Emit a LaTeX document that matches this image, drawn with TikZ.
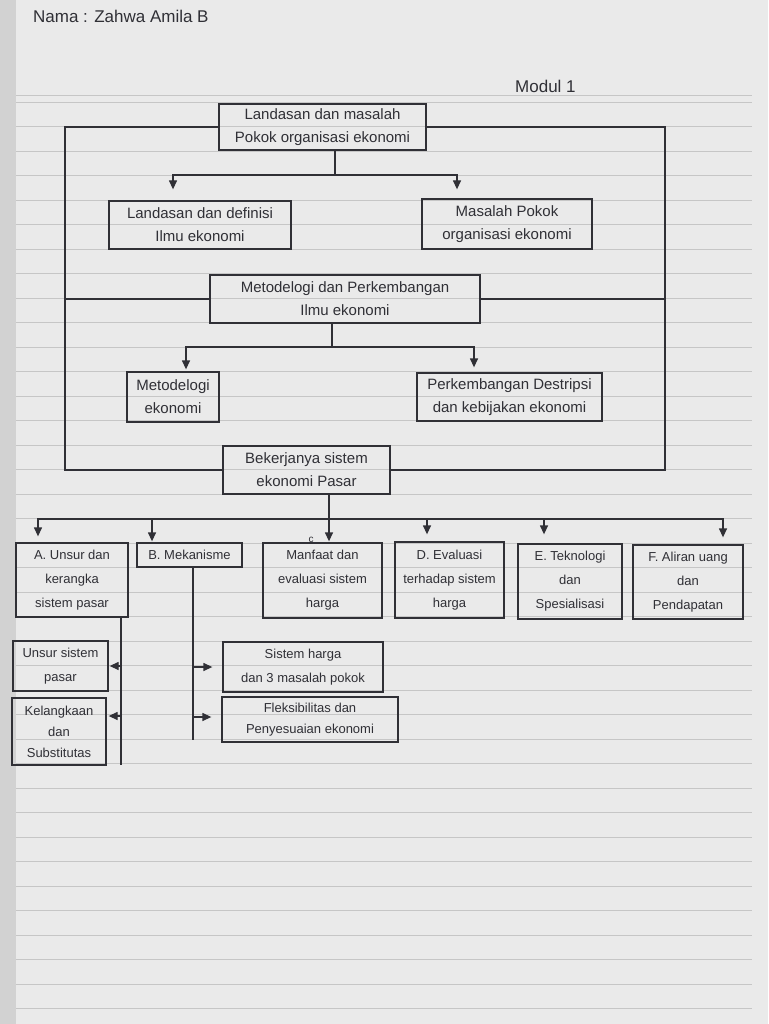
\documentclass[tikz,border=0pt]{standalone}
\usepackage{fontspec}
\setmainfont{Liberation Sans}
\usetikzlibrary{arrows.meta,calc}
\definecolor{ink}{HTML}{303036}
\definecolor{paper}{HTML}{EAEAEA}
\definecolor{edge}{HTML}{D2D2D2}
\definecolor{rule}{HTML}{C6C6C6}
\begin{document}
\begin{tikzpicture}[x=1pt,y=-1pt,
  pen/.style={draw=ink, line width=1.3pt},
  box/.style={pen, rectangle, inner sep=2pt, align=center, text=ink, font=\fontsize{15}{23}\selectfont},
  sbox/.style={box, font=\fontsize{13}{24}\selectfont},
  arr/.style={pen, -{Triangle[length=9pt,width=8pt]}},
  ln/.style={pen},
  lbl/.style={text=ink, inner sep=0pt}
]
\useasboundingbox (0,0) rectangle (768,1024);
\fill[edge] (0,0) rectangle (768,1024);
\fill[paper] (16,0) rectangle (768,1024);
\draw[rule, line width=0.8pt] (16,95) -- (752,95);
\foreach \k in {0,...,37} \draw[rule, line width=0.8pt] (16,102+24.5*\k) -- (752,102+24.5*\k);

% header
\node[lbl, anchor=west, font=\fontsize{17}{18}\selectfont] (name) at (33,16) {Nama : Zahwa Amila B};
\node[lbl, anchor=west, font=\fontsize{17}{18}\selectfont] (modul) at (515,86) {Modul 1};

% level boxes
\node[box, minimum width=207pt, minimum height=46pt] (top) at (322.5,127) {Landasan dan masalah\\Pokok organisasi ekonomi};
\node[box, minimum width=182pt, minimum height=48pt] (ldef) at (200,225) {Landasan dan definisi\\Ilmu ekonomi};
\node[box, minimum width=170pt, minimum height=50pt] (mpok) at (507,224) {Masalah Pokok\\organisasi ekonomi};
\node[box, minimum width=270pt, minimum height=48pt] (metod) at (345,299) {Metodelogi dan Perkembangan\\Ilmu ekonomi};
\node[box, minimum width=92pt, minimum height=50pt] (meko) at (173,397) {Metodelogi\\ekonomi};
\node[box, minimum width=185pt, minimum height=48pt] (perk) at (509.5,397) {Perkembangan Destripsi\\dan kebijakan ekonomi};
\node[box, minimum width=167pt, minimum height=48pt] (bek) at (306.5,470) {Bekerjanya sistem\\ekonomi Pasar};

% bottom row
\node[sbox, minimum width=112pt, minimum height=74pt] (A) at (72,580) {A. Unsur dan\\kerangka\\sistem pasar};
\node[sbox, minimum width=105pt, minimum height=24pt] (B) at (189.5,555) {B. Mekanisme};
\node[sbox, minimum width=119pt, minimum height=75pt] (C) at (322.5,580.5) {Manfaat dan\\evaluasi sistem\\harga};
\node[sbox, minimum width=109pt, minimum height=76pt] (D) at (449.5,580) {D. Evaluasi\\terhadap sistem\\harga};
\node[sbox, minimum width=104pt, minimum height=75pt] (E) at (570,581.5) {E. Teknologi\\dan\\Spesialisasi};
\node[sbox, minimum width=110pt, minimum height=74pt] (F) at (688,582) {F. Aliran uang\\dan\\Pendapatan};

% sub boxes
\node[sbox, minimum width=95pt, minimum height=50pt] (A1) at (60.5,666) {Unsur sistem\\pasar};
\node[sbox, minimum width=94pt, minimum height=67pt, font=\fontsize{13}{21}\selectfont] (A2) at (59,731.5) {Kelangkaan\\dan\\Substitutas};
\node[sbox, minimum width=160pt, minimum height=50pt] (B1) at (303,667) {Sistem harga\\dan 3 masalah pokok};
\node[sbox, minimum width=176pt, minimum height=45pt, font=\fontsize{13}{21}\selectfont] (B2) at (310,719.5) {Fleksibilitas dan\\Penyesuaian ekonomi};

\node[lbl, font=\fontsize{10}{10}\selectfont] (clab) at (311,540) {c};

% outer loops
\coordinate (lb) at (65,470);
\coordinate (rb) at (665,470);
\draw[ln] (top.west) -| (lb) -- (bek.west);
\draw[ln] (metod.west) -- (metod.west -| lb);
\draw[ln] (top.east) -| (rb) -- (bek.east);
\draw[ln] (metod.east) -- (metod.east -| rb);

% top -> ldef, mpok
\coordinate (j1) at (335,175);
\draw[ln] ([xshift=12.5pt]top.south) -- (j1);
\draw[arr] (j1) -| ([xshift=-27pt,yshift=11pt]ldef.north);
\draw[arr] (j1) -| ([xshift=-50pt,yshift=9pt]mpok.north);

% metod -> meko, perk
\coordinate (j2) at (332,347);
\draw[ln] ([xshift=-13pt]metod.south) -- (j2);
\draw[arr] (j2) -| ([xshift=13pt,yshift=2pt]meko.north);
\draw[arr] (j2) -| ([xshift=-35.5pt,yshift=5pt]perk.north);

% bek -> bottom row
\coordinate (j3) at (329,519);
\draw[ln] ([xshift=22.5pt]bek.south) -- (j3);
\draw[arr] (j3) -| ([xshift=-34pt,yshift=6pt]A.north);
\draw[arr] (j3) -| ([xshift=-37.5pt,yshift=1pt]B.north);
\draw[arr] (j3) -- ([xshift=6.5pt,yshift=1pt]C.north);
\draw[arr] (j3) -| ([xshift=-22.5pt,yshift=7pt]D.north);
\draw[arr] (j3) -| ([xshift=-26pt,yshift=9pt]E.north);
\draw[arr] (j3) -| ([xshift=35pt,yshift=7pt]F.north);

% A subtree
\coordinate (av) at (121,765);
\draw[ln] ([xshift=49pt]A.south) -- (av);
\draw[arr] (A1.east -| av) -- ([xshift=1pt]A1.east);
\draw[arr] ([yshift=15.5pt]A2.east -| av) -- ([xshift=2pt,yshift=15.5pt]A2.east);

% B subtree
\coordinate (bv) at (193,740);
\draw[ln] ([xshift=3.5pt]B.south) -- (bv);
\draw[arr] (B1.west -| bv) -- ([xshift=-10pt]B1.west);
\draw[arr] ([yshift=2.5pt]B2.west -| bv) -- ([xshift=-10pt,yshift=2.5pt]B2.west);
\end{tikzpicture}
\end{document}
